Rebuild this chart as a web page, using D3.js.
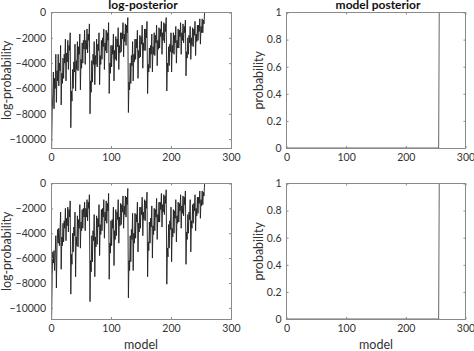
<!DOCTYPE html>
<html>
<head>
<meta charset="utf-8">
<script src="https://cdn.jsdelivr.net/npm/d3@7/dist/d3.min.js"></script>
<style>
  body { margin: 0; background: #fff; }
  svg text { font-family: Lato, "Open Sans", sans-serif; }
</style>
</head>
<body>
<div class="chart_area"></div>
<script>

// log-posterior of each of the 256 models, first run
var logPostTop = [
    -10700, -7800, -6500, -4700, -7600, -5200, -6000, -3300,
    -7100, -4600, -5400, -3300, -5800, -4000, -4600, -2600,
    -7300, -4800, -5600, -3600, -5200, -3300, -4000, -2100,
    -5400, -3200, -3900, -2200, -4500, -2600, -3000, -1600,
    -9100, -6200, -7000, -4500, -6000, -3900, -4700, -2500,
    -6200, -3800, -4500, -2300, -4600, -2700, -3300, -1700,
    -6100, -3700, -4400, -2400, -4000, -2200, -2900, -1400,
    -4100, -2200, -2900, -1300, -3200, -1700, -2200, -900,
    -8000, -5400, -6300, -3800, -5500, -3300, -4100, -2300,
    -5700, -3400, -4100, -2100, -4300, -2500, -3000, -1600,
    -5700, -3400, -4100, -2200, -3700, -2000, -2700, -1300,
    -4500, -2400, -3000, -1400, -3200, -1600, -2200, -800,
    -6400, -4000, -4800, -2600, -4300, -2600, -3300, -1700,
    -5400, -3000, -3700, -1900, -3800, -2100, -2700, -1200,
    -4500, -2600, -3200, -1600, -3100, -1600, -2100, -800,
    -3500, -1700, -2300, -900, -2600, -1000, -1600, -400,
    -7900, -5500, -6100, -4000, -5600, -3400, -4200, -2300,
    -5400, -3300, -3900, -2100, -3700, -2100, -2800, -1400,
    -5200, -3000, -3600, -1800, -3500, -1900, -2500, -1000,
    -4400, -2400, -3000, -1300, -3000, -1300, -2000, -700,
    -6400, -4100, -4700, -2800, -4400, -2600, -3300, -1700,
    -4700, -2700, -3300, -1600, -3400, -1800, -2400, -1000,
    -4200, -2200, -2900, -1200, -2800, -1300, -1900, -700,
    -3300, -1600, -2200, -800, -2400, -900, -1500, -400,
    -6200, -4000, -4700, -2700, -4200, -2500, -3100, -1600,
    -4700, -2600, -3200, -1600, -3300, -1800, -2400, -1100,
    -4000, -2200, -2800, -1300, -2800, -1400, -1900, -800,
    -3300, -1600, -2200, -900, -2400, -1100, -1600, -600,
    -5000, -3100, -3600, -2000, -3300, -1800, -2400, -1100,
    -3700, -2000, -2600, -1200, -2700, -1300, -1800, -700,
    -3400, -1700, -2300, -1000, -2200, -1000, -1500, -500,
    -2500, -1100, -1600, -500, -1600, -600, -900, 0
];

// second run (bottom plot)
var logPostBottom = [
    -10900, -7400, -5500, -6400, -5400, -7000, -5600, -4200,
    -8400, -5100, -3700, -4800, -3600, -5000, -3900, -2300,
    -6900, -4300, -5000, -3200, -4700, -3000, -3600, -2000,
    -4600, -2800, -3400, -1900, -3900, -2100, -2700, -1400,
    -8900, -5700, -6500, -4000, -5500, -3500, -4200, -2300,
    -7500, -4300, -5000, -2600, -5100, -2900, -3600, -1700,
    -5200, -3100, -3800, -2100, -3600, -2000, -2700, -1500,
    -3800, -2000, -2700, -1300, -3000, -1500, -2000, -900,
    -9500, -6200, -7100, -4200, -6300, -3800, -4600, -2500,
    -7500, -4300, -5100, -2600, -4900, -2800, -3500, -1700,
    -5800, -3300, -4100, -2100, -3800, -2000, -2700, -1300,
    -4400, -2300, -3000, -1400, -3200, -1600, -2200, -800,
    -7700, -4800, -5600, -3000, -5000, -2900, -3600, -1900,
    -6600, -3800, -4500, -2100, -4200, -2300, -2900, -1300,
    -4800, -2700, -3400, -1600, -3300, -1700, -2300, -1000,
    -3600, -1800, -2500, -1000, -2700, -1100, -1700, -400,
    -9200, -6200, -7000, -4200, -6300, -3700, -4500, -2400,
    -7000, -4000, -4800, -2400, -4400, -2500, -3100, -1500,
    -5500, -3200, -3900, -1900, -3600, -1900, -2500, -1100,
    -4200, -2300, -2900, -1300, -3000, -1400, -2000, -700,
    -7500, -4700, -5400, -3100, -4800, -2800, -3500, -1800,
    -6000, -3400, -4100, -2000, -3800, -2100, -2700, -1200,
    -4500, -2500, -3100, -1500, -3100, -1500, -2100, -800,
    -3500, -1700, -2300, -900, -2500, -1000, -1600, -500,
    -8100, -5200, -5900, -3300, -5200, -3000, -3700, -1900,
    -6300, -3600, -4300, -2100, -4000, -2200, -2800, -1300,
    -4700, -2600, -3200, -1500, -3100, -1600, -2200, -900,
    -3600, -1800, -2400, -1000, -2600, -1100, -1700, -600,
    -6500, -3900, -4500, -2500, -4000, -2300, -2900, -1300,
    -5500, -3000, -3600, -1700, -3200, -1600, -2200, -900,
    -3800, -2000, -2600, -1100, -2400, -1100, -1600, -600,
    -2800, -1300, -1800, -600, -1700, -700, -1000, 0
];

// model posterior: zero everywhere, all mass on the last model
var postModels = [1, 255, 256];
var postProbTop = [0, 0, 1];
var postProbBottom = [0, 0, 1];

var xTicks = [0, 100, 200, 300];
var logTicks = [0, -2000, -4000, -6000, -8000, -10000];
var probTicks = [0, 0.2, 0.4, 0.6, 0.8, 1];

var svg = d3.select(".chart_area")
    .append("svg")
    .attr("width", 474)
    .attr("height", 351);

function drawPanel(p) {
    var g = svg.append("g")
        .attr("transform", "translate(" + p.left + "," + p.top + ")");

    var x = d3.scaleLinear().domain([0, 300]).range([0, p.w]);
    var y = d3.scaleLinear().domain(p.yDomain).range([p.h, 0]);

    var pts = p.xs.map(function (d, i) { return [d, p.ys[i]]; });

    g.append("path")
        .datum(pts)
        .attr("fill", "none")
        .attr("stroke", p.lineColor)
        .attr("stroke-width", 0.9)
        .attr("stroke-linejoin", "round")
        .attr("d", d3.line()
            .x(function (d) { return x(d[0]); })
            .y(function (d) { return y(d[1]); }));

    // box
    g.append("rect")
        .attr("x", 0).attr("y", 0)
        .attr("width", p.w).attr("height", p.h)
        .attr("fill", "none")
        .attr("stroke", "#8a8a8a")
        .attr("stroke-width", 1)
        .attr("shape-rendering", "crispEdges");

    var x_axis = g.append("g")
        .attr("transform", "translate(0," + p.h + ")")
        .call(d3.axisBottom(x).tickValues(xTicks).tickSize(-2).tickPadding(6));
    var x_axis_top = g.append("g")
        .call(d3.axisTop(x).tickValues(xTicks).tickSize(-2).tickFormat(""));
    var y_axis = g.append("g")
        .call(d3.axisLeft(y).tickValues(p.yTicks).tickSize(-2).tickPadding(5)
            .tickFormat(p.yFormat));
    var y_axis_right = g.append("g")
        .attr("transform", "translate(" + p.w + ",0)")
        .call(d3.axisRight(y).tickValues(p.yTicks).tickSize(-2).tickFormat(""));

    [x_axis, x_axis_top, y_axis, y_axis_right].forEach(function (a) {
        a.select(".domain").remove();
        a.selectAll("line").style("stroke", "#8a8a8a");
        a.selectAll("text")
            .style("fill", "#333")
            .style("font-size", "10.5px");
    });

    if (p.title) {
        g.append("text")
            .attr("x", p.w / 2 + 2)
            .attr("y", -3.5)
            .attr("text-anchor", "middle")
            .style("font-weight", "bold")
            .style("font-size", "12px")
            .style("fill", "#111")
            .text(p.title);
    }

    g.append("text")
        .attr("transform", "translate(" + p.yLabelX + "," + (p.h / 2) + ") rotate(-90)")
        .attr("text-anchor", "middle")
        .style("font-size", "12.5px")
        .style("fill", "#333")
        .text(p.yLabel);

    if (p.xLabel) {
        g.append("text")
            .attr("x", p.w / 2)
            .attr("y", p.h + 30)
            .attr("text-anchor", "middle")
            .style("font-size", "12.5px")
            .style("fill", "#333")
            .text(p.xLabel);
    }
}

var idx = logPostTop.map(function (d, i) { return i + 1; });

drawPanel({
    left: 51, top: 12.5, w: 180, h: 135.5,
    xs: idx, ys: logPostTop,
    yDomain: [d3.min(logPostTop), 0], yTicks: logTicks, yFormat: d3.format("d"),
    lineColor: "#1e1e1e", title: "log-posterior", yLabel: "log-probability", yLabelX: -40
});
drawPanel({
    left: 286.5, top: 12.5, w: 179, h: 135.5,
    xs: postModels, ys: postProbTop,
    yDomain: [0, 1], yTicks: probTicks, yFormat: function (d) { return String(d); },
    lineColor: "#555", title: "model posterior", yLabel: "probability", yLabelX: -24
});
drawPanel({
    left: 51, top: 183.5, w: 180, h: 135.5,
    xs: idx, ys: logPostBottom,
    yDomain: [d3.min(logPostBottom), 0], yTicks: logTicks, yFormat: d3.format("d"),
    lineColor: "#1e1e1e", yLabel: "log-probability", yLabelX: -40, xLabel: "model"
});
drawPanel({
    left: 286.5, top: 183.5, w: 179, h: 135.5,
    xs: postModels, ys: postProbBottom,
    yDomain: [0, 1], yTicks: probTicks, yFormat: function (d) { return String(d); },
    lineColor: "#555", yLabel: "probability", yLabelX: -24, xLabel: "model"
});

</script>
</body>
</html>
